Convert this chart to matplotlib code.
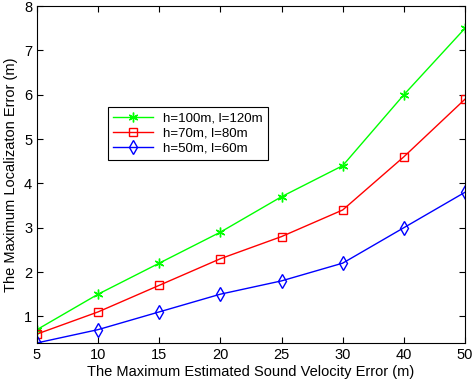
import numpy as np
import matplotlib
matplotlib.use('Agg')
import matplotlib.pyplot as plt

plt.rcParams['font.family'] = ['Liberation Sans', 'DejaVu Sans']

x_labels = ['5', '10', '15', '20', '25', '30', '40', '50']
h100 = [0.7, 1.5, 2.2, 2.9, 3.7, 4.4, 6.0, 7.5]
h70 = [0.6, 1.1, 1.7, 2.3, 2.8, 3.4, 4.6, 5.9]
h50 = [0.4, 0.7, 1.1, 1.5, 1.8, 2.2, 3.0, 3.8]

x = np.arange(len(x_labels))

fig = plt.figure(figsize=(4.74, 3.84), dpi=100)
ax = fig.add_axes([0.078, 0.107, 0.903, 0.877])

ax.plot(x, h100, color='#00ff00', marker=(6, 2, 0), markersize=7, mew=1, lw=1, label='h=100m, l=120m')
ax.plot(x, h70, color='#ff0000', marker='s', markersize=6, mfc='none', lw=1, label='h=70m, l=80m')
ax.plot(x, h50, color='#0000ff', marker='d', markersize=7.5, mfc='none', lw=1, label='h=50m, l=60m')

ax.set_xlim(0, len(x_labels) - 1)
ax.set_ylim(0.4, 8)
ax.set_xticks(x)
ax.set_xticklabels(x_labels)
ax.set_yticks(range(1, 9))
ax.tick_params(direction='in', top=True, right=True, labelsize=10.5, length=4)
ax.set_xlabel('The Maximum Estimated Sound Velocity Error (m)', fontsize=10.5, labelpad=2)
ax.set_ylabel('The Maximum Localizaton Error (m)', fontsize=10.5, labelpad=4)

leg = ax.legend(loc='upper left', bbox_to_anchor=(0.166, 0.70), fontsize=9.5,
                fancybox=False, edgecolor='black', framealpha=1, borderaxespad=0,
                handlelength=3, borderpad=0.4, labelspacing=0.2)
leg.get_frame().set_linewidth(0.8)

fig.savefig('out.png', dpi=100)
